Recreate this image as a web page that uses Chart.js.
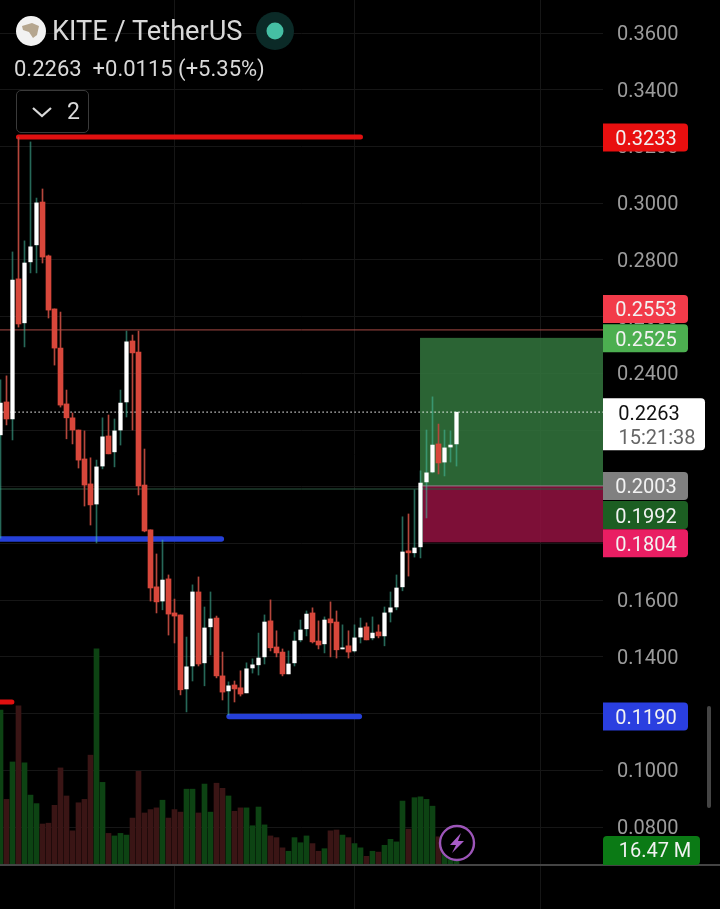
<!DOCTYPE html>
<html lang="en">

<head>
	<meta charset="UTF-8">
	<title>KITE / TetherUS</title>
	<script src="https://cdn.jsdelivr.net/npm/chart.js"></script>
	<style>
		body { margin: 0; background: #000; width: 720px; height: 909px; overflow: hidden; position: relative; font-family: Roboto, sans-serif; }
		canvas { position: absolute; left: 0; top: 0; }
		.abs { position: absolute; white-space: pre; line-height: 1; }
	</style>
</head>

<body>
	<canvas id="kite-chart" width="720" height="909"></canvas>

	<svg class="abs" style="left:15px;top:15px" width="32" height="32" viewBox="0 0 32 32">
		<circle cx="16" cy="16" r="15" fill="#f2f2f2" />
		<path d="M7 11 L17 8 L24 11 L22 20 L18 23 L14 17 L8 15 Z" fill="#b5a68f" />
	</svg>
	<div class="abs" style="left:52px;top:18px;font-size:27.2px;color:#d9d9d9">KITE / TetherUS</div>
	<svg class="abs" style="left:256px;top:12px" width="38" height="38" viewBox="0 0 38 38">
		<circle cx="19" cy="19" r="19" fill="#0b2a27" />
		<circle cx="19" cy="19" r="8.5" fill="#45bfa4" />
	</svg>
	<div class="abs" style="left:14px;top:58px;font-size:22px;color:#d9d9d9">0.2263  +0.0115 (+5.35%)</div>
	<div class="abs" style="left:16px;top:90px;width:71px;height:41px;border:1px solid #3a3a3a;border-radius:5px"></div>
	<svg class="abs" style="left:31px;top:105px" width="22" height="14" viewBox="0 0 22 14">
		<path d="M2 3 L11 11 L20 3" fill="none" stroke="#d9d9d9" stroke-width="2.2" />
	</svg>
	<div class="abs" style="left:67px;top:100px;font-size:23px;color:#d9d9d9">2</div>
	<div class="abs" style="left:707px;top:706px;width:4px;height:102px;background:#454545;border-radius:2px"></div>
	<svg class="abs" style="left:438px;top:824px" width="38" height="38" viewBox="0 0 38 38">
		<circle cx="19" cy="19" r="17" fill="#000" stroke="#9c55b8" stroke-width="2.4" />
		<path d="M23 9 L12 21 L18 21 L14 29 L26 17 L20 17 Z" fill="#a85cc8" />
	</svg>

	<script>
		const candleOpen = [.2183, .2299, .2239, .2733, .2578, .2793, .2853, .3004, .2814, .2627, .2489, .2292, .2243, .2200, .2098, .2010, .1939, .2073, .2179, .2123, .2200, .2299, .2514, .2475, .2006, .1848, .1647, .1597, .1675, .1555, .1548, .1287, .1368, .1629, .1379, .1506, .1537, .1333, .1280, .1301, .1291, .1273, .1361, .1372, .1400, .1527, .1435, .1417, .1340, .1379, .1460, .1499, .1555, .1456, .1446, .1534, .1523, .1428, .1439, .1421, .1470, .1506, .1467, .1488, .1474, .1558, .1576, .1647, .1774, .1767, .1788, .2017, .2052, .2151, .2087, .2140, .2151];
		const candleHigh = [.2377, .2391, .2828, .3233, .2867, .3216, .3018, .3050, .2817, .2627, .2616, .2341, .2260, .2200, .2197, .2102, .2094, .2243, .2253, .2239, .2341, .2549, .2535, .2549, .2133, .1848, .1763, .1812, .1689, .1604, .1548, .1470, .1654, .1682, .1576, .1629, .1544, .1417, .1312, .1315, .1351, .1379, .1393, .1484, .1548, .1601, .1492, .1428, .1421, .1488, .1530, .1562, .1573, .1527, .1541, .1594, .1562, .1513, .1492, .1513, .1537, .1520, .1541, .1513, .1576, .1629, .1689, .1894, .1904, .1989, .2056, .2200, .2317, .2221, .2200, .2197, .2263];
		const candleLow = [.1819, .2218, .2165, .2563, .2493, .2754, .2754, .2789, .2595, .2429, .2281, .2169, .2151, .2066, .1932, .1865, .1802, .2063, .2116, .2070, .2147, .2246, .2200, .1971, .1841, .1597, .1555, .1566, .1477, .1449, .1266, .1206, .1315, .1368, .1298, .1407, .1326, .1248, .1195, .1241, .1262, .1273, .1343, .1336, .1375, .1421, .1400, .1333, .1340, .1368, .1453, .1474, .1449, .1428, .1414, .1400, .1396, .1428, .1396, .1417, .1449, .1460, .1460, .1467, .1439, .1523, .1566, .1633, .1685, .1752, .1749, .1890, .2049, .2045, .2038, .2087, .2073];
		const candleClose = [.2295, .2239, .2729, .2574, .2789, .2846, .3001, .2810, .2623, .2489, .2288, .2243, .2200, .2094, .2006, .1936, .2070, .2176, .2116, .2197, .2295, .2511, .2472, .2003, .1844, .1643, .1594, .1671, .1551, .1544, .1284, .1365, .1629, .1375, .1502, .1534, .1333, .1276, .1298, .1287, .1269, .1358, .1372, .1396, .1523, .1432, .1414, .1340, .1375, .1456, .1495, .1551, .1453, .1442, .1530, .1520, .1425, .1432, .1417, .1467, .1502, .1460, .1484, .1474, .1555, .1573, .1643, .1770, .1767, .1784, .2013, .2049, .2147, .2084, .2137, .2147, .2263];
		const volumeM = [181, 76, 120, 186, 119, 81, 71, 47, 48, 69, 113, 80, 39, 72, 76, 128, 253, 96, 36, 33, 36, 34, 54, 109, 60, 64, 66, 75, 54, 64, 61, 88, 88, 60, 94, 61, 95, 89, 80, 62, 66, 66, 45, 67, 46, 33, 31, 19, 15, 31, 25, 33, 24, 15, 18, 39, 40, 34, 31, 24, 19, 9, 15, 14, 22, 29, 26, 74, 41, 78, 79, 76, 68, 32, 20, 14, 16.47];

		const priceTicks = [.08, .10, .12, .14, .16, .18, .20, .22, .24, .26, .28, .30, .32, .34, .36];
		const timeGrid = [29, 59, 90];

		// drawn levels: [price, from index, to index]
		const redLevelTop = [.3233, 3.0, 60.0];
		const redLevelLeft = [.1241, -1, 1.9];
		const blueLevelLeft = [.1816, -1, 36.8];
		const blueLevelBottom = [.1190, 38.1, 59.8];
		const thinRedLevel = .2553;
		const thinGreenLevel = .1992;
		const lastPrice = .2263;

		const zoneFrom = 69.92;
		const zoneTop = .2525;
		const zoneMiddle = .2003;
		const zoneBottom = .1804;

		const tagValues = [.3233, .2553, .2525, .2003, .1992, .1804, .1190];
		const tagColors = ['#e80f0f', '#f23b4a', '#4caf50', '#808080', '#1c5e22', '#e91e63', '#2a3fe0'];
		const tagShift = [0.5, -21, 0.5, 0, 26, 1, 0];
		const lastTime = '15:21:38';
		const volumeTag = '16.47 M';

		const idx = candleOpen.map((v, i) => i);
		const isUp = i => candleClose[i] >= candleOpen[i];

		function level(a, color, width) {
			return {
				type: 'line',
				data: [{ x: a[1], y: a[0] }, { x: a[2], y: a[0] }],
				borderColor: color,
				borderWidth: width,
				borderCapStyle: 'round',
				pointRadius: 0,
				yAxisID: 'y',
				order: 8
			};
		}

		const tagsPlugin = {
			id: 'tags',
			beforeDatasetsDraw(chart) {
				const ctx = chart.ctx, x = chart.scales.x, y = chart.scales.y;
				const left = x.getPixelForValue(zoneFrom), right = chart.chartArea.right;
				const top = y.getPixelForValue(zoneTop), mid = y.getPixelForValue(zoneMiddle), bot = y.getPixelForValue(zoneBottom);
				ctx.save();
				ctx.fillStyle = 'rgba(50,116,60,0.86)';
				ctx.fillRect(left, top, right - left, mid - top);
				ctx.fillStyle = 'rgba(146,18,64,0.86)';
				ctx.fillRect(left + 3, mid, right - left - 3, bot - mid);
				ctx.fillStyle = '#8a8a8a';
				ctx.fillRect(left + 3, mid - 0.5, right - left - 3, 1);
				ctx.restore();
			},
			afterDraw(chart) {
				const ctx = chart.ctx, y = chart.scales.y, vol = chart.scales.yVol;
				const axisX = chart.chartArea.right;
				ctx.save();

				// bottom axis line
				ctx.fillStyle = '#444444';
				ctx.fillRect(0, vol.getPixelForValue(0), chart.width, 2);

				ctx.font = '20px Roboto';
				ctx.textBaseline = 'middle';
				ctx.textAlign = 'center';
				tagValues.forEach((v, i) => {
					const py = y.getPixelForValue(v) + tagShift[i];
					ctx.fillStyle = tagColors[i];
					ctx.beginPath();
					ctx.roundRect(axisX, py - 14, 85, 28, [0, 4, 4, 0]);
					ctx.fill();
					ctx.fillStyle = '#f2f2f2';
					ctx.fillText(v.toFixed(4), axisX + 43, py + 2.5);
				});

				// last price box
				const lp = y.getPixelForValue(lastPrice);
				ctx.fillStyle = '#fff';
				ctx.beginPath();
				ctx.roundRect(axisX, lp - 14, 102, 52, [0, 4, 4, 0]);
				ctx.fill();
				ctx.fillStyle = '#111';
				ctx.fillText(lastPrice.toFixed(4), axisX + 46, lp + 2.5);
				ctx.fillStyle = '#666';
				ctx.fillText(lastTime, axisX + 54, lp + 26.5);

				// volume tag
				const vy = vol.getPixelForValue(16.47);
				ctx.fillStyle = '#0b7a15';
				ctx.beginPath();
				ctx.roundRect(axisX, vy - 14, 97, 29, [4, 4, 4, 0]);
				ctx.fill();
				ctx.fillStyle = '#f2f2f2';
				ctx.fillText(volumeTag, axisX + 52, vy + 2);
				ctx.restore();
			}
		};

		new Chart(document.getElementById('kite-chart'), {
			type: 'bar',
			plugins: [tagsPlugin],
			data: {
				datasets: [
					level(redLevelTop, '#e01010', 5),
					level(redLevelLeft, '#e01010', 5),
					level(blueLevelLeft, '#2540d8', 5.5),
					level(blueLevelBottom, '#2540d8', 5.5),
					level([thinRedLevel, -1, 101], '#a84a45', 1),
					level([thinGreenLevel, -1, 101], '#2d5a42', 1),
					Object.assign(level([lastPrice, -1, 101], '#ffffff', 1.2), { borderDash: [1.2, 2.8], borderCapStyle: 'butt' }),
					{
						data: idx.map(i => ({ x: i, y: volumeM[i] })),
						yAxisID: 'yVol',
						backgroundColor: idx.map(i => isUp(i) ? '#0d4313' : '#3a1515'),
						barThickness: 5,
						grouped: false,
						order: 6
					},
					{
						data: idx.map(i => ({ x: i, y: [candleLow[i], candleHigh[i]] })),
						yAxisID: 'y',
						backgroundColor: idx.map(i => isUp(i) ? 'rgba(70,190,160,0.55)' : '#b5463c'),
						barThickness: 1,
						grouped: false,
						order: 4
					},
					{
						// white bodies are narrower than the red ones in the app
						data: idx.filter(i => isUp(i)).map(i => ({ x: i, y: [candleOpen[i], candleClose[i]] })),
						yAxisID: 'y',
						backgroundColor: '#ffffff',
						barThickness: 3.6,
						grouped: false,
						order: 2
					},
					{
						data: idx.filter(i => !isUp(i)).map(i => ({ x: i, y: [candleOpen[i], candleClose[i]] })),
						yAxisID: 'y',
						backgroundColor: '#d8473b',
						barThickness: 5,
						grouped: false,
						order: 2
					}
				]
			},
			options: {
				responsive: false,
				animation: false,
				events: [],
				layout: { padding: 0, autoPadding: false },
				plugins: { legend: { display: false }, tooltip: { enabled: false } },
				scales: {
					x: {
						type: 'linear',
						offset: false,
						min: -0.0833,
						max: 100.4167,
						afterBuildTicks(axis) { axis.ticks = timeGrid.map(v => ({ value: v })); },
						grid: { color: '#161616', offset: false, drawTicks: false },
						border: { display: false },
						ticks: { display: false }
					},
					y: {
						position: 'right',
						min: .05110,
						max: .37164,
						afterFit(axis) { axis.width = 117; axis.paddingTop = 0; axis.paddingBottom = 0; },
						afterBuildTicks(axis) { axis.ticks = priceTicks.map(v => ({ value: v })); },
						grid: { color: '#161616', drawTicks: false },
						border: { display: false },
						ticks: {
							color: '#9c9c9c',
							padding: 14,
							labelOffset: 2,
							autoSkip: false,
							font: { family: 'Roboto', size: 20 },
							callback: v => v.toFixed(4)
						}
					},
					yVol: {
						display: false,
						min: -52.92,
						max: 1016.06
					}
				}
			}
		});
	</script>
</body>

</html>
